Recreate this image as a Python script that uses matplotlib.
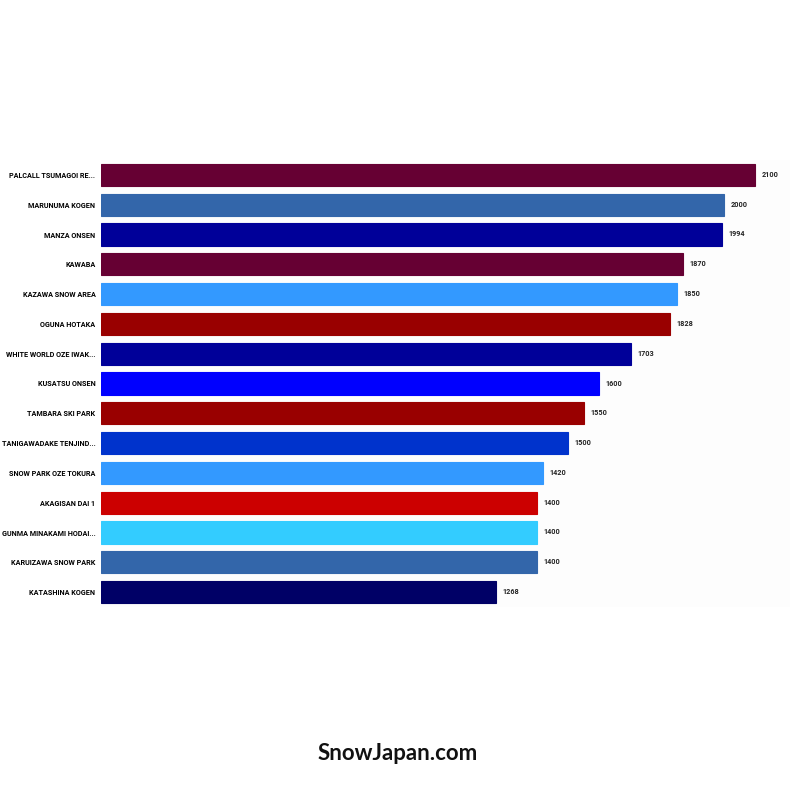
import matplotlib
matplotlib.use("Agg")
import matplotlib.pyplot as plt

names = ["PALCALL TSUMAGOI RE...", "MARUNUMA KOGEN", "MANZA ONSEN", "KAWABA", "KAZAWA SNOW AREA",
         "OGUNA HOTAKA", "WHITE WORLD OZE IWAK...", "KUSATSU ONSEN", "TAMBARA SKI PARK",
         "TANIGAWADAKE TENJIND...", "SNOW PARK OZE TOKURA", "AKAGISAN DAI 1",
         "GUNMA MINAKAMI HODAI...", "KARUIZAWA SNOW PARK", "KATASHINA KOGEN"]
values = [2100, 2000, 1994, 1870, 1850, 1828, 1703, 1600, 1550, 1500, 1420, 1400, 1400, 1400, 1268]
colors = ["#660033", "#3366aa", "#000099", "#660033", "#3399ff", "#990000", "#000099", "#0000ff",
          "#990000", "#0033cc", "#3399ff", "#cc0000", "#33ccff", "#3366aa", "#000066"]

fig = plt.figure(figsize=(7.96, 7.96), dpi=100)
fig.patch.set_facecolor("white")
ax = fig.add_axes([101/796, 1-607/796, 689/796, 447/796])
ax.set_facecolor("#fdfdfd")
y = list(range(len(names)))
ax.barh(y, values, height=0.74, color=colors, edgecolor=colors, linewidth=0.8)
for yi, v in zip(y, values):
    ax.text(v + 20, yi, str(v), va="center", ha="left", fontsize=5.2, fontweight="bold",
            family="Roboto", color="#222222")
ax.set_yticks(y)
ax.set_yticklabels(names, fontsize=5.2, fontweight="bold", family="Roboto")
ax.set_ylim(len(names) - 0.5, -0.5)
ax.set_xlim(0, 2212)
ax.set_xticks([])
ax.tick_params(axis="y", length=0, pad=4)
for s in ax.spines.values():
    s.set_visible(False)
fig.text(0.5, 1-754/796, "SnowJapan.com", ha="center", va="center", fontsize=16, fontweight="bold",
         family="Lato", color="#111111")
fig.savefig("out.png", dpi=100)
